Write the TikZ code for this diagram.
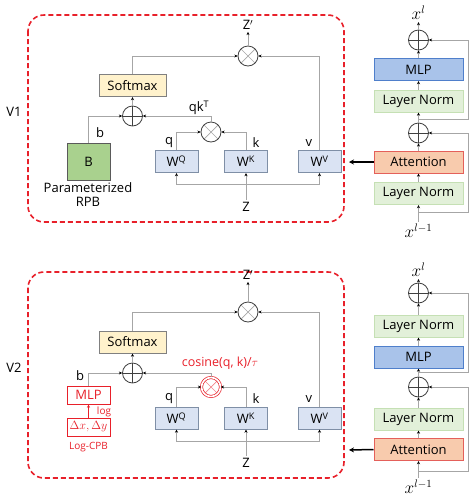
\documentclass[tikz,border=0pt]{standalone}
\usepackage{fontspec}
\setmainfont{Open Sans}
\usetikzlibrary{arrows.meta,calc}
\definecolor{redline}{HTML}{E8202A}
\definecolor{wire}{HTML}{A6A6A6}
\definecolor{opring}{HTML}{404040}
\definecolor{wfill}{HTML}{DAE3F3}
\definecolor{wdraw}{HTML}{7F8FA6}
\definecolor{smfill}{HTML}{FFF2CC}
\definecolor{smdraw}{HTML}{808080}
\definecolor{bfill}{HTML}{A9D18E}
\definecolor{bdraw}{HTML}{5A5A5A}
\definecolor{lnfill}{HTML}{E2F0D9}
\definecolor{lndraw}{HTML}{C5E0B4}
\definecolor{mlpfill}{HTML}{A9C3EA}
\definecolor{mlpdraw}{HTML}{4F7FCB}
\definecolor{attfill}{HTML}{F8CBAD}
\definecolor{attdraw}{HTML}{E4605A}
\tikzset{
  lbl/.style={font=\fontsize{13}{14}\selectfont,inner sep=0pt},
  xlbl/.style={font=\fontsize{16}{18}\selectfont,inner sep=0pt},
  smalllbl/.style={font=\fontsize{10}{12}\selectfont,inner sep=0pt,text=redline},
  box/.style={draw,line width=1pt,font=\fontsize{13}{15}\selectfont,inner sep=0pt,minimum height=22},
  wbox/.style={box,draw=wdraw,fill=wfill,minimum width=43},
  smbox/.style={box,draw=smdraw,fill=smfill,minimum width=67},
  bbox/.style={box,draw=bdraw,fill=bfill,minimum width=43,minimum height=37},
  redbox/.style={box,draw=redline,fill=white,text=redline,minimum width=43,minimum height=18},
  lnbox/.style={box,draw=lndraw,fill=lnfill,minimum width=89},
  mlpbox/.style={box,draw=mlpdraw,fill=mlpfill,minimum width=89},
  attbox/.style={box,draw=attdraw,fill=attfill,minimum width=89},
  addop/.style={circle,draw=opring,line width=0.8pt,minimum size=20,inner sep=0pt,
    path picture={\draw[opring,line width=0.7pt] (path picture bounding box.north) -- (path picture bounding box.south)
      (path picture bounding box.west) -- (path picture bounding box.east);}},
  mulop/.style={circle,draw=opring,line width=0.8pt,minimum size=20,inner sep=0pt,
    path picture={\draw[wire,line width=0.7pt] (path picture bounding box.north west) -- (path picture bounding box.south east)
      (path picture bounding box.north east) -- (path picture bounding box.south west);}},
  cosop/.style={circle,draw=redline,double=white,double distance=1.6pt,line width=0.7pt,minimum size=19,inner sep=0pt,
    path picture={\draw[redline!55,line width=0.7pt] (path picture bounding box.north west) -- (path picture bounding box.south east)
      (path picture bounding box.north east) -- (path picture bounding box.south west);}},
  vframe/.style={draw=redline,line width=1.6pt,dash pattern=on 5pt off 3pt,rounded corners=16pt},
  arr/.style={wire,line width=0.8pt,-{Stealth[length=3.2pt,width=3pt,color=black]}},
  redarr/.style={redline,line width=0.8pt,-{Stealth[length=3.2pt,width=3pt]}},
  bigarr/.style={black,line width=1.5pt,-{Stealth[length=5pt,width=5pt]}},
}
\begin{document}
\begin{tikzpicture}[x=1pt,y=-1pt]
\useasboundingbox (0,0) rectangle (474,499);
\draw[vframe] (28,15) rectangle (344,222);
\draw[vframe] (28,272) rectangle (344,478);
\node[lbl] (v1) at (14,112) {V1};
\node[smbox] (smx1) at (132.5,85.5) {Softmax};
\node[addop] (add1) at (132.5,116) {};
\node[mulop] (mz1) at (248,56) {};
\node[lbl] (zp1) at (248,25) {Z$'$};
\node[mulop] (mqk1) at (211,132) {};
\node[lbl] (qk1) at (199,108) {qk\textsuperscript{T}};
\node[bbox] (b1) at (88.5,161.5) {B};
\node[lbl,align=center] (rpb1) at (88,195) {Parameterized\\RPB};
\node[lbl] (bl1) at (100,133) {b};
\node[wbox] (wq1) at (176.5,161.5) {W\textsuperscript{Q}};
\node[wbox] (wk1) at (246,161.5) {W\textsuperscript{K}};
\node[wbox] (wv1) at (319.5,161.5) {W\textsuperscript{V}};
\node[lbl] (q1) at (169,143) {q};
\node[lbl] (k1) at (256,143) {k};
\node[lbl] (vl1) at (309,143) {v};
\node[lbl] (z1) at (246,207) {Z};
\coordinate (zb1) at (246,184);
\draw[arr] (smx1.north) |- (mz1.west);
\draw[arr,shorten >=2pt] (mz1.north) -- (zp1.south);
\draw[arr] (add1.north) -- (smx1.south);
\draw[arr] (b1.north) |- (add1.west);
\draw[arr] (mqk1.north) |- (add1.east);
\draw[arr] (wq1.north) |- (mqk1.west);
\draw[arr] (wk1.north) |- (mqk1.east);
\draw[arr] (wv1.north) |- (mz1.east);
\draw[arr,shorten <=2pt] (z1.north) -- (wk1.south);
\draw[arr] (zb1) -| (wq1.south);
\draw[arr] (zb1) -| (wv1.south);
\node[addop] (at1) at (418.5,40) {};
\node[xlbl] (xo1) at (418.5,13) {$x^{l}$};
\node[mlpbox] (mlp1) at (418.5,69.5) {MLP};
\node[lnbox] (ln1) at (418.5,101) {Layer Norm};
\node[addop] (am1) at (418.5,133) {};
\node[attbox] (att1) at (418.5,162) {Attention};
\node[lnbox] (ln2) at (418.5,193.5) {Layer Norm};
\node[xlbl] (xi1) at (418.5,231) {$x^{l-1}$};
\coordinate (r1a) at (418.5,119);
\coordinate (r1b) at (468,119);
\coordinate (r2a) at (418.5,212);
\coordinate (r2b) at (468,212);
\coordinate (in1) at (349,162);
\draw[arr,shorten <=2pt] (xi1.north) -- (ln2.south);
\draw[arr] (ln2.north) -- (att1.south);
\draw[arr] (att1.north) -- (am1.south);
\draw[arr] (am1.north) -- (ln1.south);
\draw[arr] (ln1.north) -- (mlp1.south);
\draw[arr] (mlp1.north) -- (at1.south);
\draw[arr,shorten >=2pt] (at1.north) -- (xo1.south);
\draw[arr] (r1a) -- (r1b) |- (at1.east);
\draw[arr] (r2a) -- (r2b) |- (am1.east);
\draw[bigarr] (att1.west) -- (in1);
\node[lbl] (v2) at (14,368) {V2};
\node[smbox] (smx2) at (132.5,342) {Softmax};
\node[addop] (add2) at (132.5,373) {};
\node[mulop] (mz2) at (248,312) {};
\node[lbl] (zp2) at (248,275) {Z$'$};
\node[cosop] (cs2) at (211,387) {};
\node[lbl,font=\fontsize{12.5}{14}\selectfont,text=redline] (cst2) at (220,363) {cosine(q, k)/$\tau$};
\node[redbox] (mlpr2) at (88.5,395) {MLP};
\node[redbox,font=\fontsize{12}{14}\selectfont] (dxy2) at (88.5,427) {$\Delta x,\Delta y$};
\node[smalllbl] (log2) at (104,412) {log};
\node[smalllbl] (cpb2) at (88.5,447) {Log-CPB};
\node[lbl] (bl2) at (80,376) {b};
\node[wbox] (wq2) at (176.5,418) {W\textsuperscript{Q}};
\node[wbox] (wk2) at (246,418) {W\textsuperscript{K}};
\node[wbox] (wv2) at (319.5,418) {W\textsuperscript{V}};
\node[lbl] (q2) at (169,399) {q};
\node[lbl] (k2) at (256,399) {k};
\node[lbl] (vl2) at (309,399) {v};
\node[lbl] (z2) at (246,463) {Z};
\coordinate (zb2) at (246,441);
\draw[arr] (smx2.north) |- (mz2.west);
\draw[arr,shorten >=2pt] (mz2.north) -- (zp2.south);
\draw[arr] (add2.north) -- (smx2.south);
\draw[arr] (mlpr2.north) |- (add2.west);
\draw[redarr] (dxy2.north) -- (mlpr2.south);
\draw[arr] (cs2.north) |- (add2.east);
\draw[arr] (wq2.north) |- (cs2.west);
\draw[arr] (wk2.north) |- (cs2.east);
\draw[arr] (wv2.north) |- (mz2.east);
\draw[arr,shorten <=2pt] (z2.north) -- (wk2.south);
\draw[arr] (zb2) -| (wq2.south);
\draw[arr] (zb2) -| (wv2.south);
\node[addop] (at2) at (418.5,293) {};
\node[xlbl] (xo2) at (418.5,270) {$x^{l}$};
\node[lnbox] (ln3) at (418.5,326) {Layer Norm};
\node[mlpbox] (mlp2) at (418.5,357) {MLP};
\node[addop] (am2) at (418.5,387) {};
\node[lnbox] (ln4) at (418.5,419) {Layer Norm};
\node[attbox] (att2) at (418.5,449.5) {Attention};
\node[xlbl] (xi2) at (418.5,487) {$x^{l-1}$};
\coordinate (r3a) at (418.5,372);
\coordinate (r3b) at (468,372);
\coordinate (r4a) at (418.5,471);
\coordinate (r4b) at (468,471);
\coordinate (in2) at (349,450);
\draw[arr,shorten <=2pt] (xi2.north) -- (att2.south);
\draw[arr] (att2.north) -- (ln4.south);
\draw[arr] (ln4.north) -- (am2.south);
\draw[arr] (am2.north) -- (mlp2.south);
\draw[arr] (mlp2.north) -- (ln3.south);
\draw[arr] (ln3.north) -- (at2.south);
\draw[arr,shorten >=2pt] (at2.north) -- (xo2.south);
\draw[arr] (r3a) -- (r3b) |- (at2.east);
\draw[arr] (r4a) -- (r4b) |- (am2.east);
\draw[bigarr] (att2.west) -- (in2);
\end{tikzpicture}
\end{document}
